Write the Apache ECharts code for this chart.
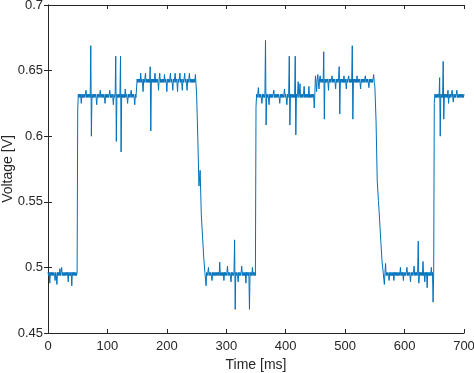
<!DOCTYPE html>
<html>
<head>
<meta charset="utf-8">
<script src="https://cdn.jsdelivr.net/npm/echarts@6/dist/echarts.min.js"></script>
<style>
html,body{margin:0;padding:0;background:#fff;}
#c{width:474px;height:373px;}
</style>
</head>
<body>
<div id="c"></div>
<script>
const xTicks = [0, 100, 200, 300, 400, 500, 600, 700];
const yTicks = [0.45, 0.5, 0.55, 0.6, 0.65, 0.7];

// Each segment: start time (ms), sample step (ms), voltage samples (V)
const lowAStart = 0, lowAStep = 1;
const lowA = [0.4962,0.4938,0.4962,0.488,0.4962,0.4938,0.4962,0.4938,0.4962,0.4938,
  0.4962,0.4938,0.490,0.4962,0.4938,0.487,0.4962,0.4938,0.4962,0.4938,
  0.499,0.4938,0.4962,0.500,0.4938,0.4962,0.4938,0.4962,0.4938,0.4962,
  0.4938,0.4962,0.4938,0.4962,0.489,0.4962,0.4938,0.4962,0.4938,0.4962,
  0.486,0.4962,0.4938,0.4962,0.4938,0.4962,0.4938,0.4962,0.4938,0.4962];

const highA1Start = 50, highA1Step = 1;
const highA1 = [0.620,0.632,0.6295,0.632,0.6295,0.632,0.625,0.632,0.6295,0.632,
  0.6295,0.632,0.6295,0.632,0.635,0.6295,0.632,0.6295,0.632,0.6295,
  0.632,0.6295,0.669,0.600,0.632,0.6295,0.632,0.6295,0.632,0.6295,
  0.632,0.6295,0.624,0.632,0.6295,0.632,0.6295,0.632,0.635,0.6295,
  0.632,0.6295,0.632,0.6295,0.632,0.6295,0.625,0.632,0.6295,0.632,
  0.6295,0.632,0.6295,0.632,0.635,0.6295,0.632,0.6295,0.632,0.6295,
  0.624,0.632,0.6295,0.632,0.661,0.596,0.632,0.6295,0.632,0.6295,
  0.632,0.6295,0.661,0.588,0.632,0.6295,0.632,0.6295,0.632,0.6295,
  0.636,0.6295,0.632,0.6295,0.625,0.632,0.6295,0.632,0.6295,0.632,
  0.635,0.6295,0.632,0.6295,0.632,0.6295,0.624,0.632,0.6295,0.631];

const highA2Start = 150, highA2Step = 1;
const highA2 = [0.6436,0.641,0.6436,0.641,0.6436,0.641,0.648,0.641,0.6436,0.641,
  0.634,0.6436,0.641,0.6436,0.648,0.641,0.6436,0.641,0.6436,0.641,
  0.6436,0.641,0.653,0.604,0.6436,0.641,0.6436,0.641,0.6436,0.641,
  0.648,0.641,0.6436,0.641,0.6436,0.641,0.635,0.6436,0.648,0.641,
  0.6436,0.641,0.6436,0.641,0.6436,0.641,0.647,0.641,0.6436,0.641,
  0.634,0.6436,0.641,0.6436,0.641,0.6436,0.648,0.641,0.6436,0.641,
  0.635,0.6436,0.641,0.6436,0.648,0.641,0.6436,0.641,0.634,0.6436,
  0.641,0.6436,0.648,0.641,0.6436,0.641,0.635,0.6436,0.641,0.6436,
  0.648,0.641,0.6436,0.641,0.635,0.6436,0.641,0.6436,0.648,0.641,
  0.6436,0.641,0.6436,0.641,0.6436,0.641,0.6436,0.641,0.647,0.640];

const fallAStart = 250, fallAStep = 2;
const fallA = [0.633,0.600,0.562,0.574,0.540,0.524,0.508,0.496];

const lowBStart = 266, lowBStep = 1;
const lowB = [0.486,0.4962,0.4938,0.4962,
  0.500,0.4938,0.4962,0.4938,0.4962,0.4938,0.490,0.4962,0.4938,0.4962,
  0.4938,0.4962,0.4938,0.4962,0.4938,0.4962,0.4938,0.4962,0.4938,0.504,
  0.4938,0.4962,0.4938,0.4962,0.4938,0.4962,0.490,0.4962,0.4938,0.4962,
  0.4938,0.4962,0.501,0.4938,0.4962,0.4938,0.4962,0.4938,0.489,0.4962,
  0.4938,0.4962,0.4938,0.4962,0.521,0.468,0.4962,0.4938,0.4962,0.4938,
  0.489,0.4962,0.4938,0.4962,0.4938,0.4962,0.501,0.4938,0.4962,0.4938,
  0.4962,0.4938,0.4962,0.488,0.4962,0.4938,0.4962,0.4938,0.4962,0.468,
  0.4962,0.4938,0.4962,0.4938,0.500,0.4938,0.4962,0.4938,0.4962,0.4938];

const highB1Start = 350, highB1Step = 1;
const highB1 = [0.622,0.632,0.6295,0.632,0.637,0.6295,0.632,0.6295,0.632,0.6295,
  0.625,0.632,0.6295,0.632,0.6295,0.632,0.673,0.6085,0.632,0.6295,
  0.632,0.6295,0.624,0.632,0.6295,0.632,0.6295,0.632,0.6295,0.632,
  0.635,0.6295,0.632,0.6295,0.632,0.6295,0.632,0.6295,0.632,0.6295,
  0.625,0.632,0.6295,0.632,0.6295,0.632,0.6295,0.632,0.636,0.6295,
  0.632,0.6295,0.624,0.632,0.6295,0.632,0.661,0.6085,0.632,0.6295,
  0.632,0.6295,0.632,0.6295,0.632,0.6295,0.661,0.601,0.632,0.6295,
  0.632,0.6415,0.6295,0.632,0.640,0.6295,0.632,0.6295,0.632,0.6295,
  0.632,0.638,0.6295,0.632,0.6295,0.632,0.6295,0.632,0.6295,0.638,
  0.6295,0.632,0.6295,0.632,0.6295,0.632,0.6295,0.632,0.6215,0.632];

const highB2Start = 450, highB2Step = 1;
const highB2 = [0.646,0.641,0.634,0.6436,0.647,0.641,0.636,0.6436,0.646,0.641,
  0.6436,0.641,0.6436,0.641,0.6644,0.613,0.6436,0.641,0.6436,0.641,
  0.6436,0.641,0.635,0.6436,0.641,0.6436,0.641,0.6436,0.646,0.641,
  0.6436,0.641,0.6436,0.641,0.636,0.6436,0.641,0.6436,0.641,0.6436,
  0.653,0.617,0.6436,0.641,0.6436,0.641,0.6436,0.641,0.646,0.641,
  0.6436,0.641,0.636,0.6436,0.641,0.6436,0.646,0.641,0.6436,0.641,
  0.6436,0.641,0.669,0.613,0.6436,0.641,0.6436,0.641,0.6436,0.641,
  0.646,0.641,0.6436,0.641,0.6436,0.641,0.636,0.6436,0.641,0.6436,
  0.641,0.6436,0.641,0.6436,0.646,0.641,0.6436,0.641,0.6436,0.641,
  0.637,0.6436,0.641,0.6436,0.641,0.6436,0.641,0.6436,0.647,0.641];

const fallBStart = 550, fallBStep = 2;
const fallB = [0.638,0.612,0.566,0.551,0.536,0.520,0.505,0.4962];

const lowCStart = 566, lowCStep = 1;
const lowC = [0.487,0.4962,0.503,0.4938,
  0.4962,0.4938,0.4962,0.4938,0.490,0.4962,0.4938,0.4962,0.4938,0.4962,
  0.4938,0.4962,0.490,0.4962,0.4938,0.4962,0.4938,0.4962,0.4938,0.4962,
  0.4938,0.4962,0.4938,0.500,0.4938,0.4962,0.4938,0.4962,0.490,0.4962,
  0.4938,0.4962,0.4938,0.4962,0.500,0.4938,0.4962,0.4938,0.4962,0.4938,
  0.489,0.4962,0.4938,0.4962,0.4938,0.4962,0.501,0.4938,0.4962,0.4938,
  0.4962,0.4938,0.4962,0.520,0.488,0.4962,0.4938,0.4962,0.4938,0.4962,
  0.4938,0.5045,0.4938,0.4962,0.489,0.4962,0.4938,0.4962,0.4845,0.4962,
  0.4938,0.4962,0.4938,0.4962,0.4938,0.500,0.4938,0.4962,0.4735,0.4962];

const highCStart = 650, highCStep = 1;
const highC = [0.625,0.632,0.6295,0.632,0.6295,0.632,0.6295,0.632,0.6295,0.6446,
  0.600,0.632,0.6295,0.632,0.6295,0.657,0.613,0.632,0.6295,0.632,
  0.6295,0.632,0.6295,0.635,0.625,0.632,0.6295,0.632,0.6295,0.632,
  0.635,0.6295,0.626,0.632,0.6295,0.632,0.6295,0.632,0.635,0.6295,
  0.632,0.6295,0.632,0.6295,0.632,0.6295,0.632,0.6295,0.632,0.6295,
  0.632];

const segments = [
  [lowAStart, lowAStep, lowA], [highA1Start, highA1Step, highA1],
  [highA2Start, highA2Step, highA2], [fallAStart, fallAStep, fallA],
  [lowBStart, lowBStep, lowB], [highB1Start, highB1Step, highB1],
  [highB2Start, highB2Step, highB2], [fallBStart, fallBStep, fallB],
  [lowCStart, lowCStep, lowC], [highCStart, highCStep, highC]
];
const data = [];
segments.forEach(([start, step, vals]) => {
  vals.forEach((v, i) => data.push([start + i * step, v]));
});

const axisColor = '#262626';
const font = 'Liberation Sans, Arial, Helvetica, sans-serif';
const chart = echarts.init(document.getElementById('c'), null, {renderer: 'canvas'});
const commonLine = {show: true, lineStyle: {color: axisColor, width: 1}};
const commonTick = {show: true, inside: true, length: 4, lineStyle: {color: axisColor, width: 1}};
chart.setOption({
  animation: false,
  backgroundColor: '#ffffff',
  grid: {left: 48, right: 10, top: 5, bottom: 40, containLabel: false, outerBoundsMode: 'none'},
  xAxis: [{
    type: 'value', min: xTicks[0], max: xTicks[xTicks.length - 1], interval: 100,
    position: 'bottom',
    axisLine: commonLine, axisTick: commonTick, splitLine: {show: false},
    axisLabel: {color: axisColor, fontSize: 13, fontFamily: font, margin: 7},
    name: 'Time [ms]', nameLocation: 'middle', nameGap: 25, nameMoveOverlap: false,
    nameTextStyle: {color: axisColor, fontSize: 14, fontFamily: font}
  }, {
    type: 'value', min: xTicks[0], max: xTicks[xTicks.length - 1], interval: 100,
    position: 'top',
    axisLine: commonLine, axisTick: commonTick, splitLine: {show: false},
    axisLabel: {show: false}
  }],
  yAxis: [{
    type: 'value', min: yTicks[0], max: yTicks[yTicks.length - 1], interval: 0.05,
    position: 'left',
    axisLine: commonLine, axisTick: commonTick, splitLine: {show: false},
    axisLabel: {color: axisColor, fontSize: 13, fontFamily: font, margin: 5,
      formatter: v => String(+v.toFixed(2))},
    name: 'Voltage [V]', nameLocation: 'middle', nameGap: 33, nameMoveOverlap: false,
    nameTextStyle: {color: axisColor, fontSize: 14, fontFamily: font}
  }, {
    type: 'value', min: yTicks[0], max: yTicks[yTicks.length - 1], interval: 0.05,
    position: 'right',
    axisLine: commonLine, axisTick: commonTick, splitLine: {show: false},
    axisLabel: {show: false}
  }],
  series: [{
    type: 'line', data: data, xAxisIndex: 0, yAxisIndex: 0,
    showSymbol: false, symbol: 'none', clip: true,
    lineStyle: {color: '#0072BD', width: 1}
  }]
});
</script>
</body>
</html>
